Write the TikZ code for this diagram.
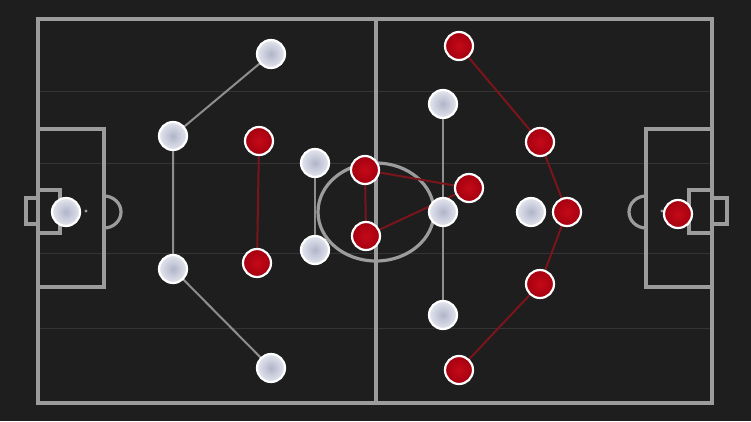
\documentclass[tikz,border=0pt]{standalone}
\definecolor{bg}{HTML}{1E1E1E}
\definecolor{pline}{HTML}{9C9C9C}
\definecolor{faint}{HTML}{343434}
\definecolor{wlink}{HTML}{8E8E8E}
\definecolor{rlink}{HTML}{7A151B}
\tikzset{
  pitch/.style={draw=pline, line width=3.2pt},
  faintline/.style={draw=faint, line width=0.8pt},
  wp/.style={circle, minimum size=28pt, inner sep=0pt, draw=white, line width=2.2pt, inner color={rgb,255:red,176;green,180;blue,200}, outer color={rgb,255:red,228;green,230;blue,238}},
  rp/.style={circle, minimum size=28pt, inner sep=0pt, draw=white, line width=2.2pt, inner color={rgb,255:red,196;green,10;blue,24}, outer color={rgb,255:red,165;green,0;blue,16}},
  wl/.style={draw=wlink, line width=2pt},
  rl/.style={draw=rlink, line width=2pt}
}
\begin{document}
\begin{tikzpicture}[x=1pt,y=-1pt]
\fill[bg] (0,0) rectangle (751,421);
\useasboundingbox (0,0) rectangle (751,421);
% faint horizontal lines
\foreach \yy in {91,163,253,328} \draw[faintline] (38,\yy) -- (712,\yy);
% pitch
\draw[pitch] (38,19) rectangle (712,403);
\draw[pitch] (376,19) -- (376,403);
\draw[pitch] (376,212) ellipse [x radius=58, y radius=49];
% left
\draw[pitch] (38,129) rectangle (104,287);
\draw[pitch] (38,190) rectangle (60,233);
\draw[pitch] (38,198) -- (26,198) -- (26,224) -- (38,224);
\draw[pitch] (104,228) arc[start angle=90, end angle=-90, x radius=17, y radius=16];
\fill[pline] (86,211) circle (1.6);
% right
\draw[pitch] (712,129) rectangle (646,287);
\draw[pitch] (712,190) rectangle (689,233);
\draw[pitch] (712,198) -- (727,198) -- (727,224) -- (712,224);
\draw[pitch] (646,228) arc[start angle=90, end angle=270, x radius=17, y radius=16];
\fill[pline] (662,211) circle (1.6);
% coordinates of players
\coordinate (w1) at (66,212);
\coordinate (w2) at (271,54);
\coordinate (w3) at (173,136);
\coordinate (w4) at (173,269);
\coordinate (w5) at (271,368);
\coordinate (w6) at (315,163);
\coordinate (w7) at (315,250);
\coordinate (w8) at (443,104);
\coordinate (w9) at (443,212);
\coordinate (w10) at (443,315);
\coordinate (w11) at (531,212);
\coordinate (r1) at (678,214);
\coordinate (r2) at (459,46);
\coordinate (r3) at (540,142);
\coordinate (r4) at (567,212);
\coordinate (r5) at (540,284);
\coordinate (r6) at (459,370);
\coordinate (r7) at (469,188);
\coordinate (r8) at (365,170);
\coordinate (r9) at (366,236);
\coordinate (r10) at (259,141);
\coordinate (r11) at (257,263);
% links
\draw[wl] (w2) -- (w3) -- (w4) -- (w5);
\draw[wl] (w6) -- (w7);
\draw[wl] (w8) -- (w9) -- (w10);
\draw[rl] (r10) -- (r11);
\draw[rl] (r8) -- (r9) -- (r7) -- cycle;
\draw[rl] (r2) -- (r3) -- (r4) -- (r5) -- (r6);
% players
\foreach \n in {w1,w2,w3,w4,w5,w6,w7,w8,w9,w10,w11} \node[wp] (n\n) at (\n) {};
\foreach \n in {r1,r2,r3,r4,r5,r6,r7,r8,r9,r10,r11} \node[rp] (n\n) at (\n) {};
\end{tikzpicture}
\end{document}
